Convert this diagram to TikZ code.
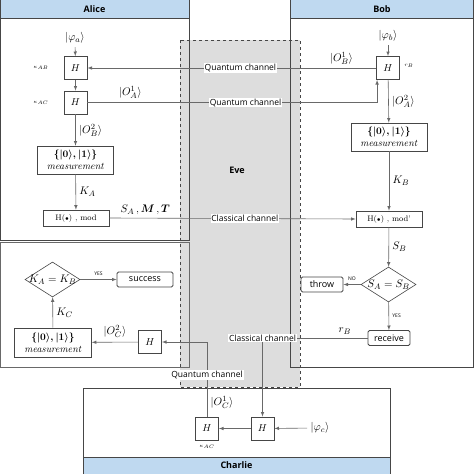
\documentclass[tikz,border=0pt]{standalone}
\usepackage{fontspec}
\newfontfamily\uifont{Open Sans}
\usetikzlibrary{shapes,positioning,calc}
\definecolor{headblue}{RGB}{191,217,240}
\definecolor{evegray}{RGB}{221,221,221}
\definecolor{linegray}{RGB}{105,105,105}
\definecolor{boxgray}{RGB}{70,70,70}

\begin{document}
\begin{tikzpicture}[
                    >=latex,
                x=1pt, y=-1pt,
                line/.style={draw=linegray, line width=0.6pt},
                lab/.style={font=\fontsize{11}{13}\selectfont},
                hbox/.style={draw=boxgray, line width=0.8pt, fill=white, minimum width=23pt, minimum height=23pt, inner sep=0pt},
                meas/.style={draw=boxgray, line width=0.6pt, fill=white, minimum width=76pt, minimum height=28pt, inner sep=1pt, align=center},
                modbox/.style={draw=boxgray, line width=0.6pt, fill=white, minimum width=66pt, minimum height=16pt, inner sep=1pt, font=\footnotesize},
                test/.style={diamond, draw=boxgray, line width=0.6pt, fill=white, minimum width=55pt, minimum height=35pt, inner sep=0pt},
                term/.style={draw=boxgray, line width=0.8pt, fill=white, rounded corners=1.5pt, minimum height=15pt, inner sep=1pt, font=\uifont\small},
                chan/.style={fill=white, inner sep=0.8pt, font=\uifont\fontsize{8.5}{10}\selectfont},
                tag/.style={font=\uifont\fontsize{5}{6}\selectfont},
                head/.style={draw=boxgray, line width=0.8pt, fill=headblue},
                panel/.style={draw=boxgray, line width=0.8pt}]

                \useasboundingbox (0,0) rectangle (474,474);

                \draw[dashed, fill=evegray, draw=boxgray, line width=0.8pt] (180,40) rectangle (300,387);
                \draw(237,170) node (Eve) {\uifont\bfseries\small Eve};

                \draw[head] (0.5,-1) rectangle (189,18);
                \draw(94.5,9) node (Alice) {\uifont\bfseries\small Alice};
                \draw[panel] (0.5,18) rectangle (189,240);
                \draw[panel, draw=linegray, line width=0.5pt] (0.5,242.5) rectangle (189,367);
                \draw[head] (290,-1) rectangle (473.5,18);
                \draw(382,9) node (Bob) {\uifont\bfseries\small Bob};
                \draw[panel] (290,18) rectangle (473.5,367);
                \draw[panel, fill=white] (83,388) rectangle (390,475);
                \draw[head] (83,457) rectangle (390,475);
                \draw(236.5,465.5) node (Charlie) {\uifont\bfseries\small Charlie};

                % Alice
                \draw(75,38) node[lab] (phiA) {$|\varphi_a\rangle$};
                \draw(75.5,68) node[hbox] (hA1) {$H$};
                \draw(41,68) node {\tiny $\kappa_{AB}$};
                \draw(75.5,102.5) node[hbox] (hA2) {$H$};
                \draw(41,103) node {\tiny $\kappa_{AC}$};
                \draw(75.5,160) node[meas] (measA) {{\boldmath$\{|0\rangle,|1\rangle\}$}\\\textit{measurement}};
                \draw(76,218) node[modbox] (modA) {H($\scriptstyle\bullet$) , mod};
                \draw(52.5,279.5) node[test, label={[lab]center:{$K_A = K_B$}}] (testA) {};
                \draw(145,279.5) node[term, minimum width=56pt] (succ) {success};
                \draw(53,342.5) node[meas, minimum width=77pt, minimum height=29pt] (measC) {{\boldmath$\{|0\rangle,|1\rangle\}$}\\\textit{measurement}};
                \draw(150,342) node[hbox] (hA3) {$H$};

                % Bob
                \draw(388,36) node[lab] (phiB) {$|\varphi_b\rangle$};
                \draw(388,68) node[hbox] (hB) {$H$};
                \draw(409,66) node {\tiny $r_B$};
                \draw(389,137) node[meas] (measB) {{\boldmath$\{|0\rangle,|1\rangle\}$}\\\textit{measurement}};
                \draw(389,219) node[modbox] (modB) {H($\scriptstyle\bullet$) , mod'};
                \draw(388.5,284.5) node[test, label={[lab]center:{$S_A = S_B$}}] (testB) {};
                \draw(322,284.5) node[term, minimum width=42pt] (throw) {throw};
                \draw(389,338) node[term, minimum width=42pt] (recv) {receive};

                % Charlie
                \draw(207,428.5) node[hbox] (hC1) {$H$};
                \draw(207,447) node {\tiny $\kappa_{AC}$};
                \draw(262.5,428.5) node[hbox] (hC2) {$H$};
                \draw(320,428) node[lab] (phiC) {$|\varphi_c\rangle$};

                \draw[->, line] (phiA) to (hA1);
                \draw[->, line] (hA1) to (hA2);
                \draw[->, line] (hA2) to node[midway, right, lab] {$|O_B^2\rangle$} (measA);
                \draw[->, line] (measA) to node[midway, right, lab] {$K_A$} (modA);
                \draw[->, line] (measC) to node[midway, right, lab] {$K_C$} (testA);
                \draw[->, line] (testA) to node[midway, above, tag] {YES} (succ);
                \draw[->, line] (hA3) to node[midway, above, lab, yshift=1pt] {$|O_C^2\rangle$} (measC);

                \draw[->, line] (phiB) to (hB);
                \draw[->, line] (hB) to node[midway, right, lab] {$|O_A^2\rangle$} (measB);
                \draw[->, line] (measB) to node[midway, right, lab] {$K_B$} (modB);
                \draw[->, line] (modB) to node[midway, right, lab] {$S_B$} (testB);
                \draw[->, line] (testB) to node[midway, above, tag] {NO} (throw);
                \draw[->, line] (testB) to node[midway, right, tag] {YES} (recv);

                \draw[->, line] (phiC) to (hC2);
                \draw[->, line] (hC2) to (hC1);

                \draw[->, line] (hB.west) -- (hA1.east)
                    node[pos=0.12, above, lab] {$|O_B^1\rangle$}
                    node[pos=0.47, chan] {Quantum channel};
                \draw[->, line] (hA2.east) -| ([xshift=1pt]hB.south west)
                    node[pos=0.074, above, lab] {$|O_A^1\rangle$}
                    node[pos=0.273, chan] {Quantum channel};
                \draw[->, line] (modA.east) -- (modB.west)
                    node[pos=0.146, above, lab] {$S_A$\,,\,{\boldmath$M$}\,,\,{\boldmath$T$}}
                    node[pos=0.55, chan] {Classical channel};
                \draw[->, line] (recv.west) -| (hC2.north)
                    node[pos=0.109, above, lab] {$r_B$}
                    node[pos=0.5, chan] {Classical channel};
                \draw[->, line] (hC1.north) |- (hA3.east)
                    node[pos=0.093, right, lab] {$|O_C^1\rangle$}
                    node[pos=0.28, chan] {Quantum channel};

            \end{tikzpicture}
\end{document}
